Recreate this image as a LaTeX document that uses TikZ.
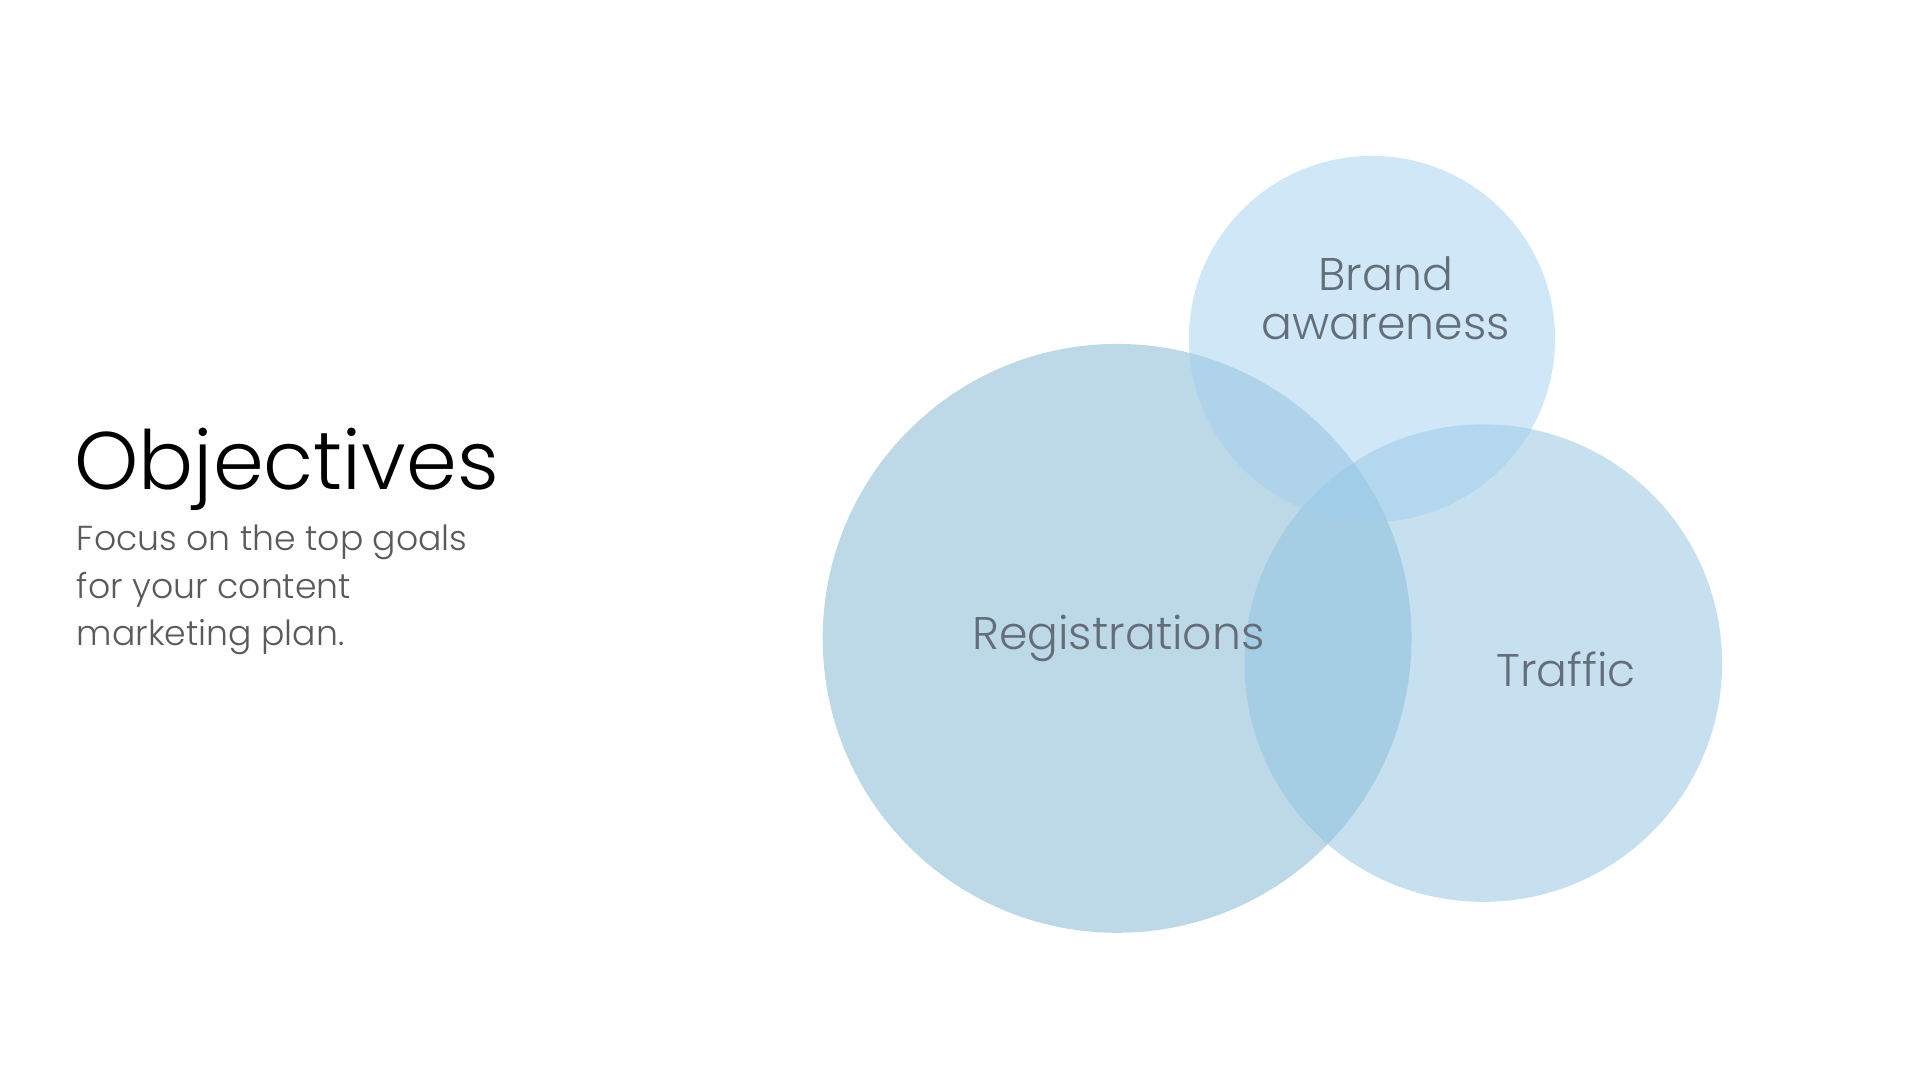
\documentclass[tikz,border=0pt]{standalone}
\usepackage{fontspec}
\setmainfont{Poppins}[UprightFont={* Light}]
\definecolor{creg}{RGB}{123,179,209}
\definecolor{cbrand}{RGB}{159,207,239}
\definecolor{ctraf}{RGB}{141,193,225}
\definecolor{lab}{RGB}{100,110,120}
\definecolor{body}{RGB}{90,90,90}
\tikzset{venn/.style={circle,fill opacity=0.5,draw=none},
lbl/.style={text=lab,font=\fontsize{37}{40}\selectfont,align=center}}
\begin{document}
\begin{tikzpicture}[x=1pt,y=-1pt]
\useasboundingbox (0,0) rectangle (1552,873);
\fill[creg,opacity=0.5] (903,516) circle (238);
\fill[ctraf,opacity=0.5] (1199,536) circle (193);
\fill[cbrand,opacity=0.5] (1109,274) circle (148);
\node[lbl] (reg) at (904,516) {Registrations};
\node[lbl] (traf) at (1266,541) {Traffic};
\node[lbl] (brand) at (1120,241) {Brand\\awareness};
\node[anchor=base west,inner sep=0,font=\fontsize{66}{70}\selectfont] (title) at (60,396) {Objectives};
\node[anchor=north west,inner sep=0,text=body,align=left,font=\fontsize{28}{38.5}\selectfont] (desc) at (62,424) {Focus on the top goals\\for your content\\marketing plan.};
\end{tikzpicture}
\end{document}
